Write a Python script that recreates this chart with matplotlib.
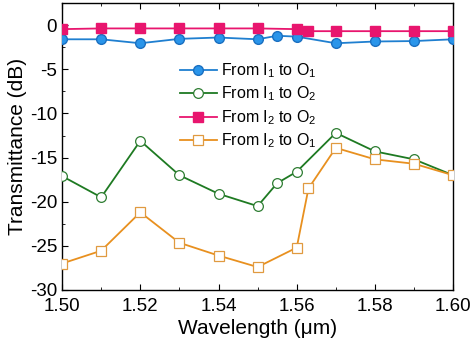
import numpy as np
import matplotlib.pyplot as plt
from matplotlib.ticker import MultipleLocator

plt.rcParams.update({
    "font.family": ["Liberation Sans", "DejaVu Sans"],
    "mathtext.fontset": "custom",
    "mathtext.rm": "Liberation Sans",
    "mathtext.it": "Liberation Sans",
    "axes.unicode_minus": False,
})

# data
wl_blue = [1.50, 1.51, 1.52, 1.53, 1.54, 1.55, 1.555, 1.56, 1.57, 1.58, 1.59, 1.60]
t_i1_o1 = [-1.6, -1.6, -2.05, -1.55, -1.4, -1.6, -1.2, -1.3, -2.05, -1.85, -1.8, -1.6]

wl_green = [1.50, 1.51, 1.52, 1.53, 1.54, 1.55, 1.555, 1.56, 1.57, 1.58, 1.59, 1.60]
t_i1_o2 = [-17.1, -19.5, -13.1, -17.0, -19.1, -20.5, -17.9, -16.6, -12.2, -14.3, -15.2, -17.0]

wl_pink = [1.50, 1.51, 1.52, 1.53, 1.54, 1.55, 1.56, 1.563, 1.57, 1.58, 1.59, 1.60]
t_i2_o2 = [-0.45, -0.37, -0.37, -0.37, -0.37, -0.37, -0.45, -0.68, -0.68, -0.68, -0.68, -0.68]

wl_orange = [1.50, 1.51, 1.52, 1.53, 1.54, 1.55, 1.56, 1.563, 1.57, 1.58, 1.59, 1.60]
t_i2_o1 = [-27.0, -25.55, -21.2, -24.65, -26.1, -27.4, -25.2, -18.5, -13.9, -15.2, -15.7, -17.0]

fig = plt.figure(figsize=(4.74, 3.44), dpi=100)
ax = fig.add_axes([0.131, 0.157, 0.825, 0.834])

ax.plot(wl_blue, t_i1_o1, color='#1f7fd0', lw=1.3, marker='o', ms=7,
        markerfacecolor='#2a95ea', markeredgecolor='#1a6fc0', label=r'From I$_1$ to O$_1$', zorder=3)
ax.plot(wl_green, t_i1_o2, color='#1e7a22', lw=1.3, marker='o', ms=7,
        markerfacecolor='white', markeredgecolor='#2e7d32', markeredgewidth=0.9,
        label=r'From I$_1$ to O$_2$', zorder=3)
ax.plot(wl_pink, t_i2_o2, color='#e8156e', lw=1.3, marker='s', ms=6.5,
        markerfacecolor='#e8156e', markeredgecolor='#e8156e', label=r'From I$_2$ to O$_2$', zorder=3)
ax.plot(wl_orange, t_i2_o1, color='#e8901f', lw=1.3, marker='s', ms=7,
        markerfacecolor='white', markeredgecolor='#e09a40', markeredgewidth=0.9,
        label=r'From I$_2$ to O$_1$', zorder=3)

ax.set_xlim(1.50, 1.60)
ax.set_ylim(-30, 2.5)
ax.xaxis.set_major_locator(MultipleLocator(0.02))
ax.xaxis.set_minor_locator(MultipleLocator(0.01))
ax.yaxis.set_major_locator(MultipleLocator(5))
ax.yaxis.set_minor_locator(MultipleLocator(2.5))
ax.xaxis.set_major_formatter(plt.FormatStrFormatter('%.2f'))
ax.tick_params(which='both', direction='in', top=True, right=False, labelsize=13.5)
ax.tick_params(which='major', length=4)
ax.tick_params(which='minor', length=2.5)
ax.tick_params(axis='x', pad=6)
for sp in ax.spines.values():
    sp.set_linewidth(1.0)

ax.set_xlabel('Wavelength (\u03bcm)', fontsize=15, labelpad=3)
ax.set_ylabel('Transmittance (dB)', fontsize=15, labelpad=2)

leg = ax.legend(loc='upper left', bbox_to_anchor=(0.285, 0.82), frameon=False,
                fontsize=11.5, handlelength=2.3, handletextpad=0.3,
                labelspacing=0.3, borderaxespad=0)

fig.savefig('out.png', dpi=100)
